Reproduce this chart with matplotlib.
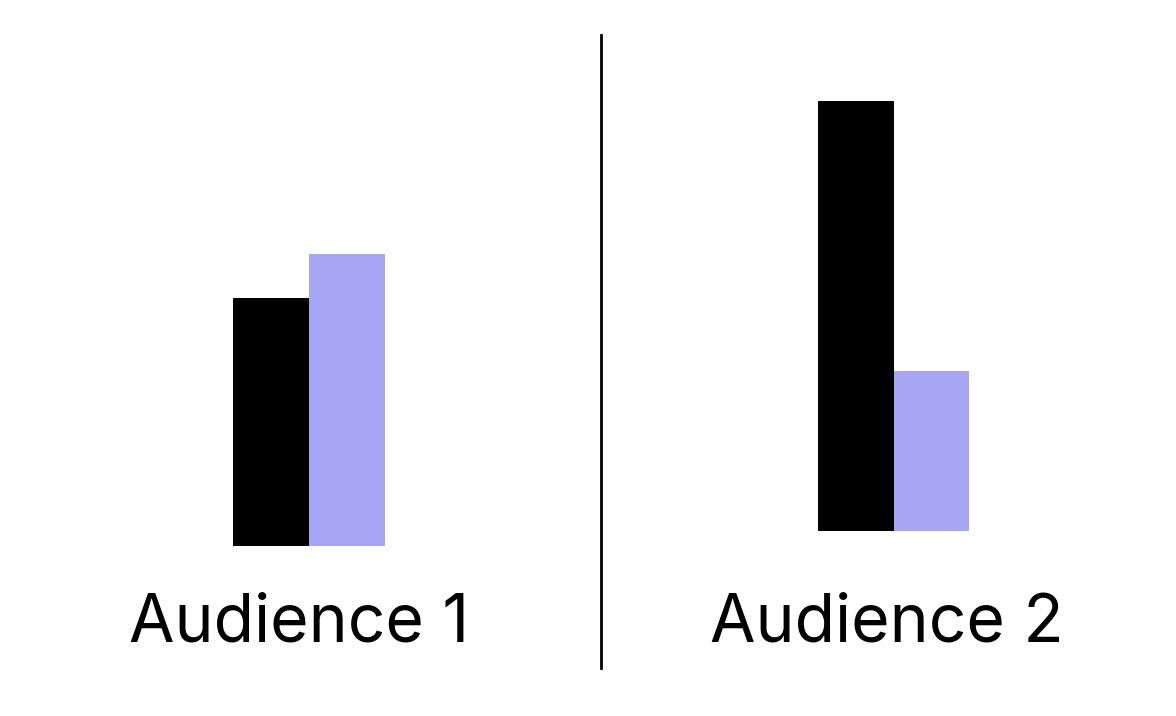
import matplotlib.pyplot as plt

# values (arbitrary units, same scale for both groups)
groups = ['Audience 1', 'Audience 2']
series_a = [248, 430]   # black bars
series_b = [292, 160]   # purple bars

W, H = 1176, 716
fig = plt.figure(figsize=(W / 100, H / 100), dpi=100)
plt.rcParams['font.family'] = ['Inter', 'DejaVu Sans']

# axes placement in pixels: left, bottom(from top), width
panels = [(233, 546, 152), (818, 531, 151)]
ymax = 450

for i, (x0, ybot, w) in enumerate(panels):
    ax = fig.add_axes([x0 / W, (H - ybot) / H, w / W, ymax / H])
    ax.bar([0, 1], [series_a[i], series_b[i]], width=1.0,
           color=['black', '#a6a6f5'])
    ax.set_xlim(-0.5, 1.5)
    ax.set_ylim(0, ymax)
    ax.axis('off')

fig.text(299 / W, 1 - 642 / H, groups[0], ha='center', va='baseline', fontsize=47.5)
fig.text(887 / W, 1 - 642 / H, groups[1], ha='center', va='baseline', fontsize=47.5)

# divider line
fig.add_artist(plt.Line2D([601 / W, 601 / W], [1 - 35 / H, 1 - 668 / H],
                          color='black', lw=2))

fig.savefig('out.png', dpi=100)
